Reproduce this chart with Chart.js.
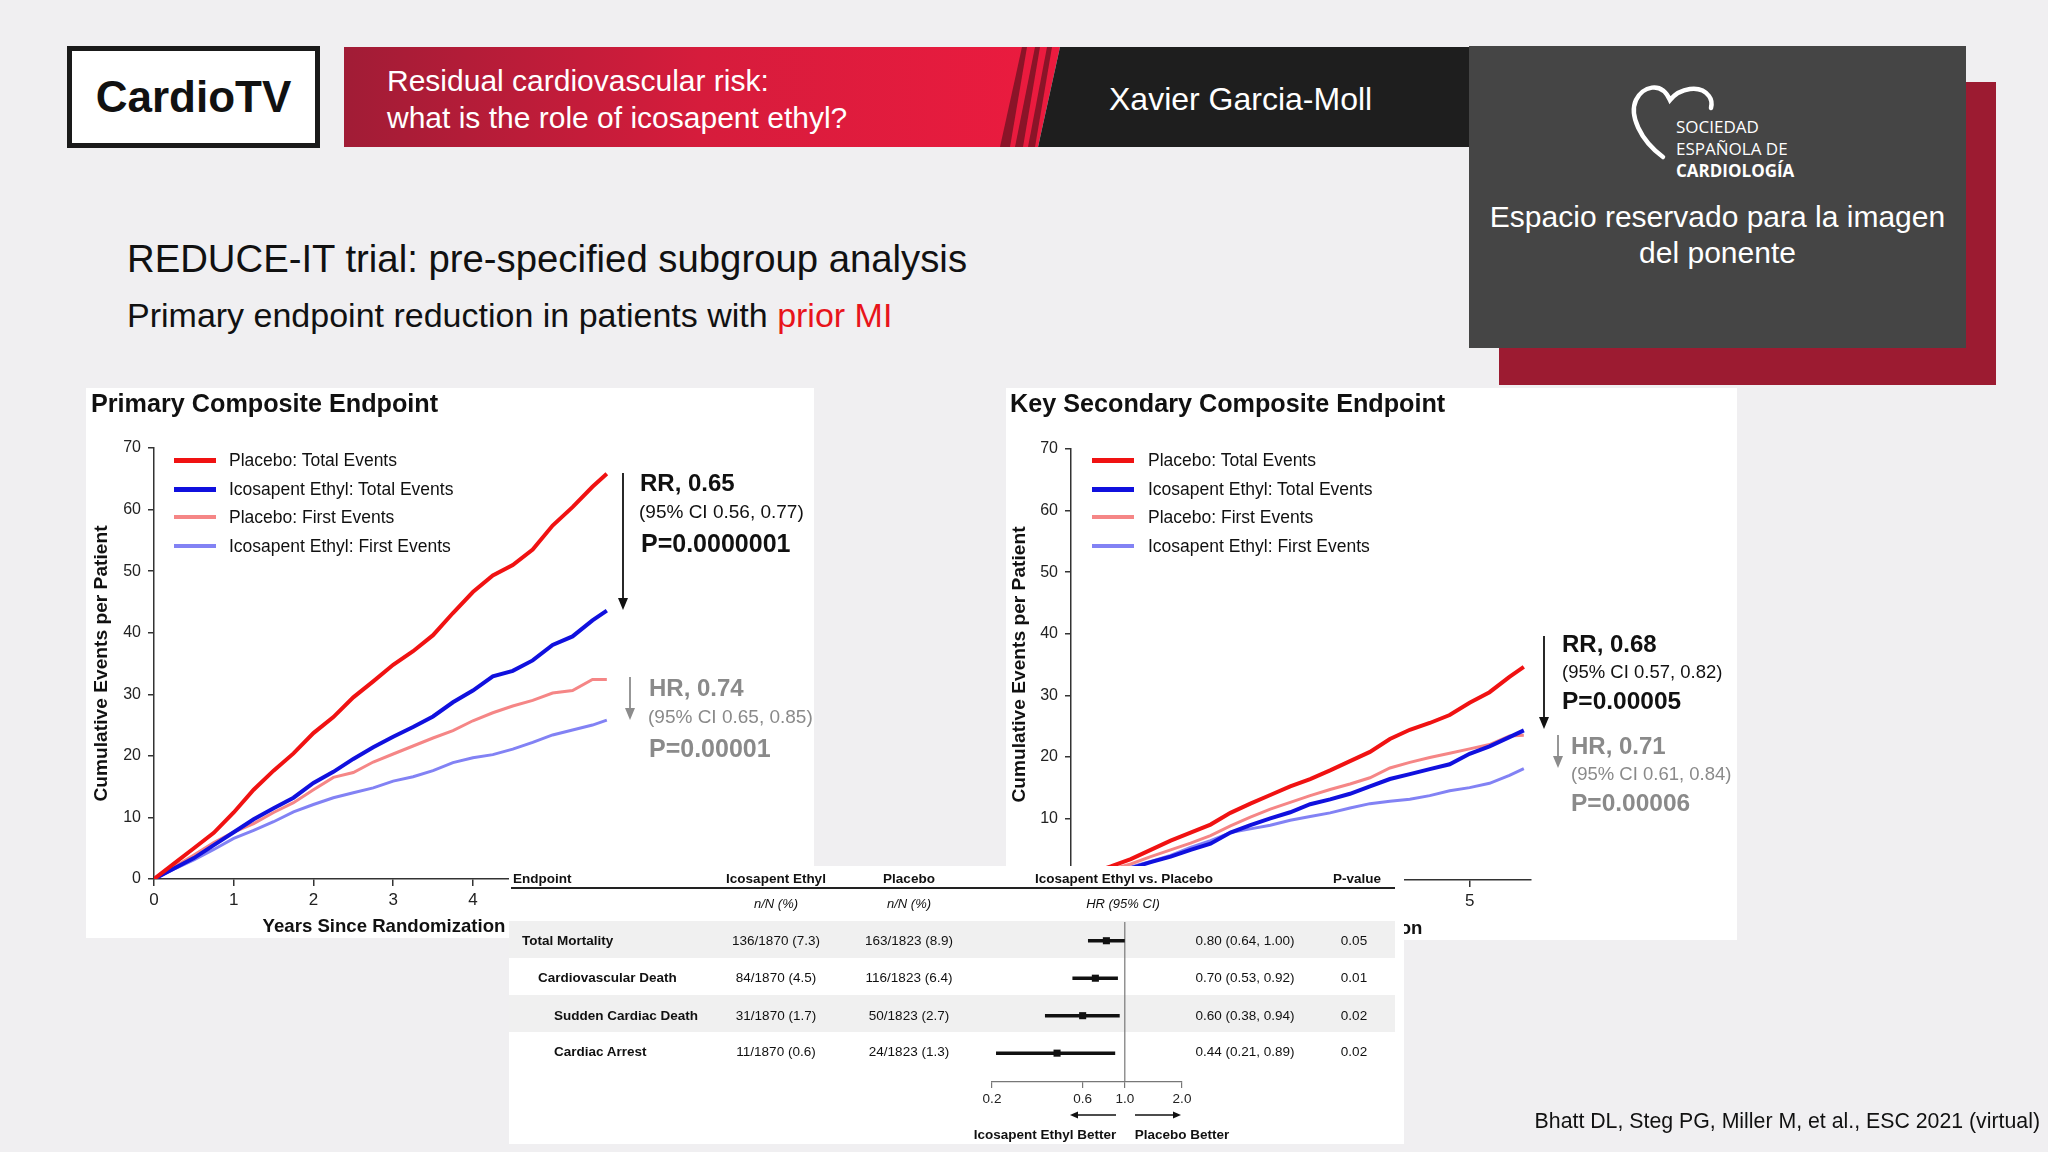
<!DOCTYPE html>
<html>
<head>
<meta charset="utf-8">
<script src="https://cdn.jsdelivr.net/npm/chart.js@4.4.1/dist/chart.umd.min.js"></script>
<style>
  body { margin:0; width:2048px; height:1152px; background:#f0eff1; position:relative; overflow:hidden;
         font-family:"Liberation Sans", Arial, sans-serif; color:#111; }
  .abs { position:absolute; white-space:nowrap; }
  .panel { position:absolute; background:#fff; }
  canvas { position:absolute; }
</style>
</head>
<body>

<!-- cabecera -->
<div class="abs" style="left:1499px;top:82px;width:497px;height:303px;background:#9c1b31"></div>
<svg class="abs" style="left:344px;top:47px" width="1125" height="100">
  <defs>
    <linearGradient id="rg" x1="0" x2="1">
      <stop offset="0" stop-color="#a11c36"/>
      <stop offset="0.5" stop-color="#d61c3c"/>
      <stop offset="1" stop-color="#ec1b3f"/>
    </linearGradient>
  </defs>
  <polygon points="0,0 716,0 694,100 0,100" fill="url(#rg)"/>
  <polygon points="678,0 683,0 666,100 656,100" fill="#8a1428"/>
  <polygon points="691,0 696,0 679,100 671,100" fill="#8a1428"/>
  <polygon points="703,0 708,0 691,100 684,100" fill="#8a1428"/>
  <polygon points="716,0 1125,0 1125,100 694,100" fill="#1e1e1e"/>
</svg>
<div class="abs" style="left:67px;top:46px;width:253px;height:102px;box-sizing:border-box;border:5px solid #1a1a1a;background:#fff;
     font-weight:bold;font-size:44px;line-height:92px;text-align:center;">CardioTV</div>
<div class="abs" style="left:387px;top:62px;font-size:30px;line-height:37px;color:#fff">Residual cardiovascular risk:<br>what is the role of icosapent ethyl?</div>
<div class="abs" style="left:1109px;top:80px;font-size:32px;line-height:38px;color:#fff">Xavier Garcia-Moll</div>
<div class="abs" style="left:1469px;top:46px;width:497px;height:302px;background:#454545"></div>
<svg class="abs" style="left:0;top:0" width="2048" height="400">
  <path d="M1663,157 C1640,140 1629,115 1636,100 C1642,87 1661,80 1670,100 C1680,88 1700,84 1709,96 C1712,100 1712,104 1711,108"
        fill="none" stroke="#fff" stroke-width="4.5" stroke-linecap="round"/>
</svg>
<div class="abs" style="left:1676px;top:116px;font-family:'Open Sans';font-size:17px;line-height:22px;color:#fff">SOCIEDAD<br>ESPAÑOLA DE<br><b>CARDIOLOGÍA</b></div>
<div class="abs" style="left:1469px;top:199px;width:497px;text-align:center;font-size:30px;line-height:36px;color:#fff;white-space:normal">Espacio reservado para la imagen<br>del ponente</div>

<div class="abs" style="left:127px;top:237px;font-size:38.3px;line-height:44px">REDUCE-IT trial: pre-specified subgroup analysis</div>
<div class="abs" style="left:127px;top:295px;font-size:34px;line-height:40px">Primary endpoint reduction in patients with <span style="color:#e8141b">prior MI</span></div>

<!-- paneles de las curvas -->
<div class="panel" style="left:86px;top:388px;width:728px;height:550px"></div>
<div class="panel" style="left:1006px;top:388px;width:731px;height:552px"></div>
<canvas id="primaryChart" width="728" height="550" style="left:86px;top:388px"></canvas>
<canvas id="secondaryChart" width="731" height="552" style="left:1006px;top:388px"></canvas>
<div id="overlay"></div>
<svg class="abs" style="left:0;top:0" width="2048" height="1152">
  <line x1="623" y1="473" x2="623" y2="599" stroke="#111" stroke-width="1.8"/>
  <path d="M618,598 L623,610 L628,598 Z" fill="#111"/>
  <line x1="630" y1="677" x2="630" y2="709" stroke="#8c8c8c" stroke-width="1.8"/>
  <path d="M625,708 L630,720 L635,708 Z" fill="#8c8c8c"/>
  <line x1="1544" y1="636" x2="1544" y2="718" stroke="#111" stroke-width="1.8"/>
  <path d="M1539,717 L1544,729 L1549,717 Z" fill="#111"/>
  <line x1="1558" y1="735" x2="1558" y2="757" stroke="#8c8c8c" stroke-width="1.8"/>
  <path d="M1553,756 L1558,768 L1563,756 Z" fill="#8c8c8c"/>
</svg>

<!-- tabla de subgrupos -->
<div id="table" class="panel" style="left:509px;top:866px;width:895px;height:278px"></div>
<canvas id="forestChart" width="270" height="200" style="left:950px;top:912px"></canvas>

<div class="abs" style="right:8px;top:1107px;font-size:21.3px;line-height:28px">Bhatt DL, Steg PG, Miller M, et al., ESC 2021 (virtual)</div>

<script>
// Datos
const years = [0, 0.25, 0.5, 0.75, 1, 1.25, 1.5, 1.75, 2, 2.25, 2.5, 2.75, 3, 3.25, 3.5, 3.75, 4, 4.25, 4.5, 4.75, 5, 5.25, 5.5, 5.68];
const seriesLabels = ["Placebo: Total Events", "Icosapent Ethyl: Total Events", "Placebo: First Events", "Icosapent Ethyl: First Events"];

const primaryPlaceboTotal   = [0, 2.5, 5.0, 7.5, 10.8, 14.5, 17.6, 20.4, 23.7, 26.3, 29.5, 32.1, 34.8, 37.0, 39.6, 43.2, 46.6, 49.3, 51.0, 53.5, 57.4, 60.4, 63.7, 65.8];
const primaryIcosapentTotal = [0, 1.7, 3.4, 5.5, 7.6, 9.7, 11.5, 13.2, 15.6, 17.4, 19.5, 21.4, 23.1, 24.7, 26.4, 28.7, 30.6, 32.9, 33.8, 35.5, 38.0, 39.4, 42.0, 43.6];
const primaryPlaceboFirst   = [0, 1.9, 3.9, 5.9, 7.6, 9.0, 10.8, 12.4, 14.5, 16.5, 17.3, 19.0, 20.3, 21.6, 22.9, 24.1, 25.7, 27.0, 28.1, 29.0, 30.2, 30.6, 32.4, 32.4];
const primaryIcosapentFirst = [0, 1.6, 3.1, 4.8, 6.6, 7.9, 9.3, 10.9, 12.1, 13.2, 14.0, 14.8, 15.9, 16.6, 17.6, 18.9, 19.7, 20.2, 21.1, 22.2, 23.4, 24.2, 25.0, 25.8];

const secondaryPlaceboTotal   = [0, 1.1, 2.2, 3.4, 4.9, 6.4, 7.7, 9.0, 10.9, 12.4, 13.8, 15.2, 16.4, 17.8, 19.3, 20.8, 22.9, 24.4, 25.5, 26.8, 28.8, 30.5, 33.0, 34.6];
const secondaryIcosapentTotal = [0, 0.6, 1.2, 1.9, 2.9, 3.8, 4.9, 5.9, 7.7, 8.9, 10.0, 11.0, 12.3, 13.1, 14.0, 15.2, 16.4, 17.2, 18.0, 18.8, 20.5, 21.7, 23.2, 24.3];
const secondaryPlaceboFirst   = [0, 0.8, 1.7, 2.6, 3.8, 4.9, 6.0, 7.2, 8.8, 10.2, 11.5, 12.6, 13.7, 14.7, 15.6, 16.6, 18.2, 19.1, 19.9, 20.6, 21.3, 22.0, 23.4, 23.5];
const secondaryIcosapentFirst = [0, 0.7, 1.4, 2.1, 3.0, 4.0, 5.3, 6.4, 7.7, 8.3, 8.9, 9.7, 10.3, 10.9, 11.7, 12.4, 12.8, 13.1, 13.7, 14.5, 15.0, 15.7, 17.0, 18.1];

const xTicks = [0, 1, 2, 3, 4, 5];
const yTicks = [0, 10, 20, 30, 40, 50, 60, 70];

const endpoints  = ["Total Mortality", "Cardiovascular Death", "Sudden Cardiac Death", "Cardiac Arrest"];
const icosapentN = ["136/1870 (7.3)", "84/1870 (4.5)", "31/1870 (1.7)", "11/1870 (0.6)"];
const placeboN   = ["163/1823 (8.9)", "116/1823 (6.4)", "50/1823 (2.7)", "24/1823 (1.3)"];
const hr     = [0.80, 0.70, 0.60, 0.44];
const hrLow  = [0.64, 0.53, 0.38, 0.21];
const hrHigh = [1.00, 0.92, 0.94, 0.89];
const pValues = ["0.05", "0.01", "0.02", "0.02"];
const forestTicks = [0.2, 0.6, 1.0, 2.0];

const colors = ["#f01212", "#1010de", "#f58686", "#8282f4"];
const widths = [4, 4, 3, 3];

Chart.defaults.font.family = '"Liberation Sans", Arial, sans-serif';
Chart.defaults.color = "#222";

// Texto auxiliar
function addText(parent, text, x, cy, size, opts = {}) {
  const d = document.createElement("div");
  d.className = "abs";
  d.textContent = text;
  const lh = Math.round(size * 1.25);
  d.style.left = x + "px";
  d.style.top = (cy - lh / 2) + "px";
  d.style.fontSize = size + "px";
  d.style.lineHeight = lh + "px";
  if (opts.bold) d.style.fontWeight = "bold";
  if (opts.italic) d.style.fontStyle = "italic";
  if (opts.color) d.style.color = opts.color;
  if (opts.center) d.style.transform = "translateX(-50%)";
  parent.appendChild(d);
  return d;
}

// Curvas de eventos acumulados
function eventsChart(id, seriesValues, yAxisWidth, padTop, padRight, xAxisHeight, titlePad) {
  return new Chart(document.getElementById(id), {
    type: "line",
    data: {
      datasets: seriesValues.map((vals, i) => ({
        label: seriesLabels[i],
        data: years.map((t, k) => ({ x: t, y: vals[k] })),
        borderColor: colors[i],
        borderWidth: widths[i],
        pointRadius: 0,
        tension: 0,
        fill: false
      }))
    },
    options: {
      responsive: false,
      animation: false,
      layout: { padding: { top: padTop, right: padRight, left: 0, bottom: 0 } },
      plugins: { legend: { display: false }, tooltip: { enabled: false } },
      scales: {
        x: {
          type: "linear", min: 0, max: 5.77,
          afterBuildTicks: s => { s.ticks = xTicks.map(v => ({ value: v })); },
          afterFit: s => { s.height = xAxisHeight; },
          grid: { drawOnChartArea: false, drawTicks: true, tickLength: 7, color: "#333", lineWidth: 1.5 },
          border: { color: "#333", width: 1.5 },
          ticks: { font: { size: 17 }, padding: 4, color: "#222" },
          title: { display: true, text: "Years Since Randomization", font: { size: 18.6, weight: "bold" }, color: "#111", padding: { top: 0, bottom: 0 } }
        },
        y: {
          min: 0, max: 70,
          afterBuildTicks: s => { s.ticks = yTicks.map(v => ({ value: v })); },
          afterFit: s => { s.width = yAxisWidth; },
          grid: { drawOnChartArea: false, drawTicks: true, tickLength: 6, color: "#333", lineWidth: 1.5 },
          border: { color: "#333", width: 1.5 },
          ticks: { font: { size: 16 }, padding: 7, color: "#222" },
          title: { display: true, text: "Cumulative Events per Patient", font: { size: 19.2, weight: "bold" }, color: "#111", padding: { top: titlePad, bottom: 0 } }
        }
      }
    }
  });
}

eventsChart("primaryChart", [primaryPlaceboTotal, primaryIcosapentTotal, primaryPlaceboFirst, primaryIcosapentFirst], 68, 60, 200, 59, 4);
eventsChart("secondaryChart", [secondaryPlaceboTotal, secondaryIcosapentTotal, secondaryPlaceboFirst, secondaryIcosapentFirst], 65, 61, 206, 60, 2);

// Títulos, leyendas y anotaciones
const ov = document.getElementById("overlay");
addText(ov, "Primary Composite Endpoint", 91, 403, 25.2, { bold: true });
addText(ov, "Key Secondary Composite Endpoint", 1010, 403, 25.2, { bold: true });

const legendRows = [460, 489, 517, 546];
[[174, 229], [1092, 1148]].forEach(([lx, tx]) => {
  seriesLabels.forEach((lab, i) => {
    const sw = document.createElement("div");
    sw.className = "abs";
    const h = i < 2 ? 5 : 3.5;
    sw.style.cssText += `left:${lx}px;top:${legendRows[i] - h / 2}px;width:42px;height:${h}px;background:${colors[i]}`;
    ov.appendChild(sw);
    addText(ov, lab, tx, legendRows[i], 17.5);
  });
});

const gray = "#8a8a8a";
addText(ov, "RR, 0.65", 640, 483, 24, { bold: true });
addText(ov, "(95% CI 0.56, 0.77)", 639, 512, 19);
addText(ov, "P=0.0000001", 641, 543, 25, { bold: true });
addText(ov, "HR, 0.74", 649, 688, 24, { bold: true, color: gray });
addText(ov, "(95% CI 0.65, 0.85)", 648, 717, 19, { color: gray });
addText(ov, "P=0.00001", 649, 748, 25, { bold: true, color: gray });

addText(ov, "RR, 0.68", 1562, 644, 24, { bold: true });
addText(ov, "(95% CI 0.57, 0.82)", 1562, 671, 18.5);
addText(ov, "P=0.00005", 1562, 700, 24.5, { bold: true });
addText(ov, "HR, 0.71", 1571, 746, 24, { bold: true, color: gray });
addText(ov, "(95% CI 0.61, 0.84)", 1571, 773, 18.5, { color: gray });
addText(ov, "P=0.00006", 1571, 802, 24.5, { bold: true, color: gray });

// Tabla
const tb = document.getElementById("table");
[55, 129].forEach(top => {
  const b = document.createElement("div");
  b.className = "abs";
  b.style.cssText += `left:0;top:${top}px;width:886px;height:37px;background:#f0f0f0`;
  tb.appendChild(b);
});
const hl = document.createElement("div");
hl.className = "abs";
hl.style.cssText += "left:2px;top:21px;width:884px;height:2px;background:#222";
tb.appendChild(hl);

addText(tb, "Endpoint", 4, 12, 13.5, { bold: true });
addText(tb, "Icosapent Ethyl", 267, 12, 13.5, { bold: true, center: true });
addText(tb, "Placebo", 400, 12, 13.5, { bold: true, center: true });
addText(tb, "Icosapent Ethyl vs. Placebo", 615, 12, 13.5, { bold: true, center: true });
addText(tb, "P-value", 848, 12, 13.5, { bold: true, center: true });
addText(tb, "n/N (%)", 267, 38, 13, { italic: true, center: true });
addText(tb, "n/N (%)", 400, 38, 13, { italic: true, center: true });
addText(tb, "HR (95% CI)", 614, 38, 13, { italic: true, center: true });

const rowY = [74, 111, 149, 185];
const indent = [13, 29, 45, 45];
endpoints.forEach((ep, i) => {
  addText(tb, ep, indent[i], rowY[i], 13.5, { bold: true });
  addText(tb, icosapentN[i], 267, rowY[i], 13.5, { center: true });
  addText(tb, placeboN[i], 400, rowY[i], 13.5, { center: true });
  addText(tb, `${hr[i].toFixed(2)} (${hrLow[i].toFixed(2)}, ${hrHigh[i].toFixed(2)})`, 736, rowY[i], 13.5, { center: true });
  addText(tb, pValues[i], 845, rowY[i], 13.5, { center: true });
});
addText(tb, "Icosapent Ethyl Better", 536, 268, 13.5, { bold: true, center: true });
addText(tb, "Placebo Better", 673, 268, 13.5, { bold: true, center: true });
const arr = document.createElementNS("http://www.w3.org/2000/svg", "svg");
arr.setAttribute("width", "895"); arr.setAttribute("height", "278");
arr.style.cssText = "position:absolute;left:0;top:0";
arr.innerHTML = '<line x1="607" y1="249" x2="566" y2="249" stroke="#111" stroke-width="1.5"/><path d="M561,249 L569,245.5 L569,252.5 Z" fill="#111"/>' +
  '<line x1="626" y1="249" x2="667" y2="249" stroke="#111" stroke-width="1.5"/><path d="M672,249 L664,245.5 L664,252.5 Z" fill="#111"/>';
tb.appendChild(arr);

// Forest plot
const rowsMax = 4.27;
new Chart(document.getElementById("forestChart"), {
  type: "scatter",
  data: {
    datasets: [
      {
        type: "scatter",
        data: hr.map((v, i) => ({ x: v, y: i + 0.5 })),
        pointStyle: "rect", pointRadius: 5, backgroundColor: "#111", borderWidth: 0
      },
      ...hr.map((v, i) => ({
        type: "line",
        data: [{ x: hrLow[i], y: i + 0.5 }, { x: hrHigh[i], y: i + 0.5 }],
        borderColor: "#111", borderWidth: 3.5, pointRadius: 0
      })),
      {
        type: "line",
        data: [{ x: 1, y: 0 }, { x: 1, y: rowsMax }],
        borderColor: "#777", borderWidth: 1.2, pointRadius: 0
      }
    ]
  },
  options: {
    responsive: false,
    animation: false,
    layout: { padding: { top: 10, left: 42, right: 38, bottom: 0 } },
    plugins: { legend: { display: false }, tooltip: { enabled: false } },
    scales: {
      x: {
        type: "logarithmic", min: 0.2, max: 2.0,
        afterBuildTicks: s => { s.ticks = forestTicks.map(v => ({ value: v })); },
        afterFit: s => { s.height = 30; },
        grid: { drawOnChartArea: false, drawTicks: true, tickLength: 6, color: "#777", lineWidth: 1.2 },
        border: { color: "#777", width: 1.2 },
        ticks: { font: { size: 13.5 }, padding: 3, color: "#222", callback: v => Number(v).toFixed(1) }
      },
      y: { display: false, min: 0, max: rowsMax, reverse: true }
    }
  }
});
</script>
</body>
</html>
